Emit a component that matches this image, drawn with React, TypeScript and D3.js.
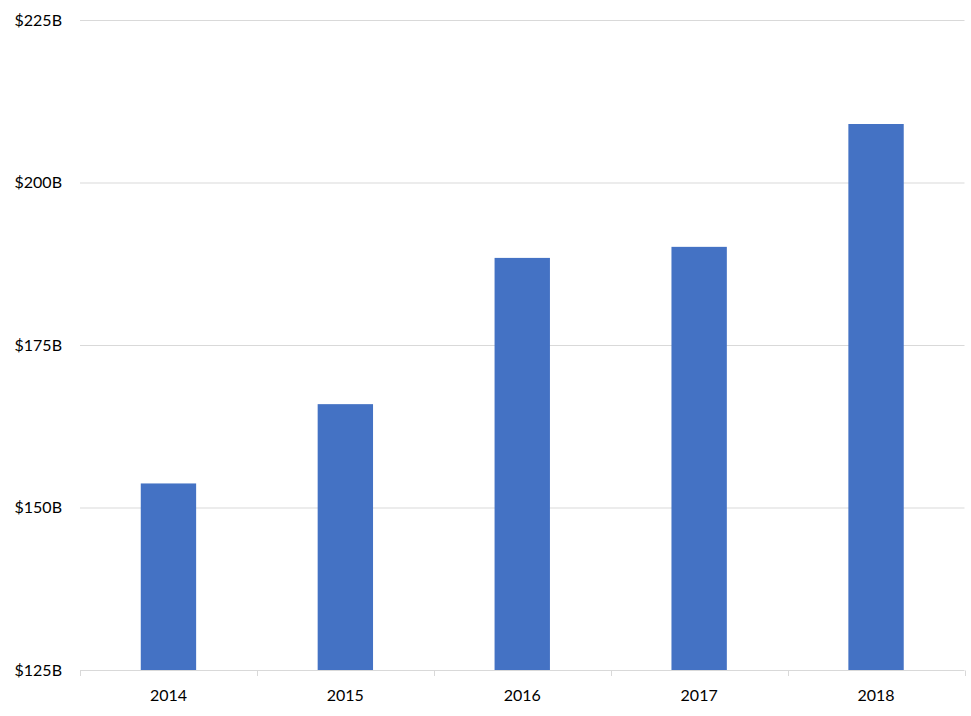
import React, { useEffect, useRef } from 'react';
import * as d3 from 'd3';

// revenue by year, in billions of dollars
const years = ['2014', '2015', '2016', '2017', '2018'];
const revenue = [153.7, 165.9, 188.4, 190.1, 209.0];
const yTicks = [125, 150, 175, 200, 225];

const WIDTH = 971;
const HEIGHT = 716;
const FONT = 'Lato, "Open Sans", sans-serif';

export default function App() {
  const svgRef = useRef<SVGSVGElement>(null);

  useEffect(() => {
    if (!svgRef.current) return;
    const svg = d3.select(svgRef.current);
    svg.selectAll('*').remove();

    const x = d3.scaleBand<string>()
      .domain(years)
      .range([80, 964.5])
      .paddingInner(0.687)
      .paddingOuter(0.3435);

    const y = d3.scaleLinear()
      .domain([125, 225])
      .range([670, 20]);

    // gridlines
    svg.append('g')
      .selectAll('line')
      .data(yTicks.slice(1))
      .join('line')
      .attr('x1', 80)
      .attr('x2', 964.5)
      .attr('y1', d => y(d) + 0.5)
      .attr('y2', d => y(d) + 0.5)
      .attr('stroke', '#d9d9d9')
      .attr('stroke-width', 1);

    // y labels
    svg.append('g')
      .selectAll('text')
      .data(yTicks)
      .join('text')
      .attr('x', 62)
      .attr('y', d => y(d))
      .attr('dy', '0.35em')
      .attr('text-anchor', 'end')
      .style('font-family', FONT)
      .style('font-size', '16px')
      .attr('fill', '#000')
      .text(d => `$${d}B`);

    // bars
    svg.append('g')
      .selectAll('rect')
      .data(revenue)
      .join('rect')
      .attr('x', (_, i) => x(years[i])!)
      .attr('width', x.bandwidth())
      .attr('y', d => y(d))
      .attr('height', d => y(125) - y(d))
      .attr('fill', '#4472c4');

    // x axis baseline and ticks
    const axis = svg.append('g');
    axis.append('line')
      .attr('x1', 80)
      .attr('x2', 964.5)
      .attr('y1', 670.5)
      .attr('y2', 670.5)
      .attr('stroke', '#d9d9d9');

    const step = x.step();
    const tickXs = d3.range(years.length + 1).map(i => 80 + i * step);
    axis.selectAll('line.tick')
      .data(tickXs)
      .join('line')
      .attr('class', 'tick')
      .attr('x1', d => Math.round(d) + 0.5)
      .attr('x2', d => Math.round(d) + 0.5)
      .attr('y1', 670.5)
      .attr('y2', 676)
      .attr('stroke', '#d9d9d9');

    axis.selectAll('text')
      .data(years)
      .join('text')
      .attr('x', d => x(d)! + x.bandwidth() / 2)
      .attr('y', 695)
      .attr('dy', '0.35em')
      .attr('text-anchor', 'middle')
      .style('font-family', FONT)
      .style('font-size', '16px')
      .attr('fill', '#000')
      .text(d => d);
  }, []);

  return (
    <svg
      ref={svgRef}
      width={WIDTH}
      height={HEIGHT}
      style={{ position: 'absolute', left: 0, top: 0, background: '#fff' }}
    />
  );
}
